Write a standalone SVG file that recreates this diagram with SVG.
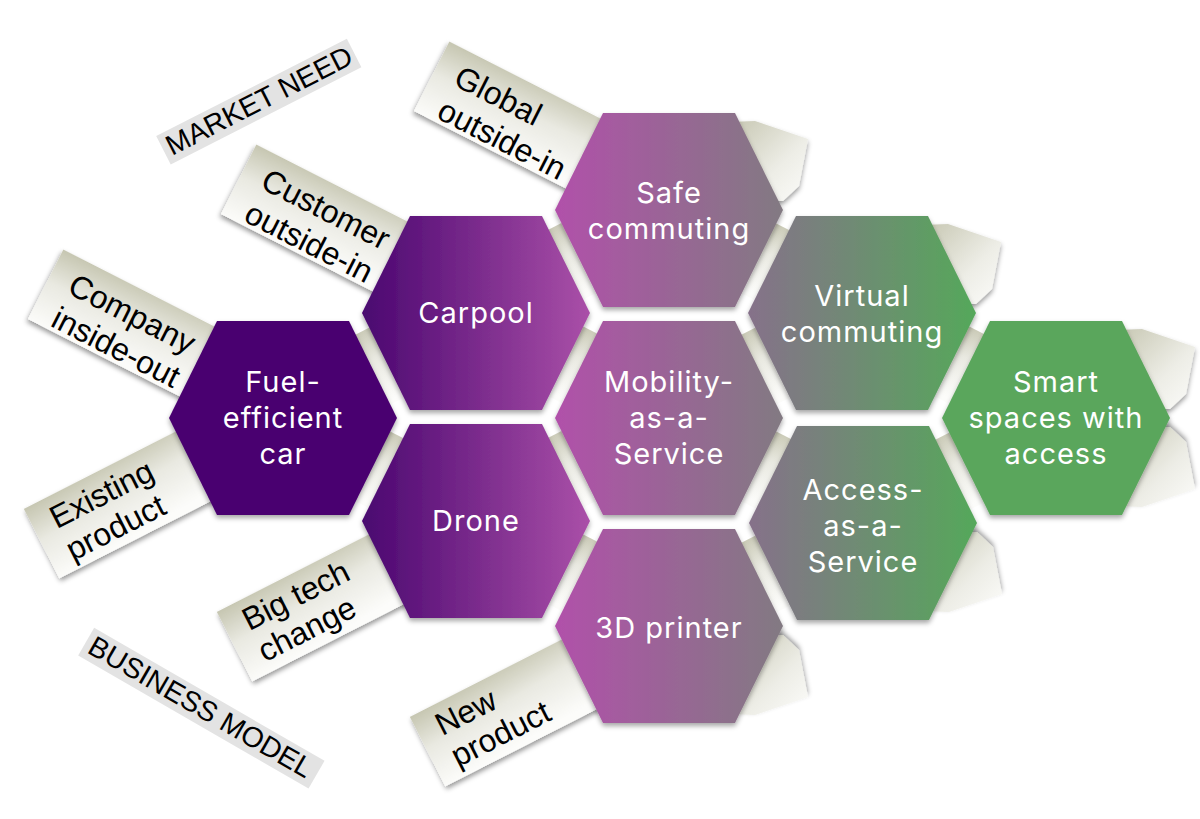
<svg xmlns="http://www.w3.org/2000/svg" width="1200" height="819" viewBox="0 0 1200 819">
<defs>
<style>
.hx{font-family:Inter,"Noto Sans","DejaVu Sans",sans-serif;font-size:29px;letter-spacing:1px;fill:#ffffff;text-anchor:middle}
.tb{font-family:"Liberation Sans",Arial,sans-serif;font-size:32px;fill:#000000;text-anchor:start}
.ax{font-family:"Liberation Sans",Arial,sans-serif;font-size:28.5px;fill:#000000}
.tab{fill:url(#gTab);filter:url(#fTab)}
.rtab{fill:url(#gTabR);filter:url(#fTab)}
.rtabL{fill:url(#gTabRL);filter:url(#fTab)}
.gap{fill:url(#gTab)}
.hex{filter:url(#fHex)}
</style>
<linearGradient id="gTab" x1="0" y1="0" x2="0.15" y2="1">
<stop offset="0" stop-color="#c6c6b1"/>
<stop offset="0.45" stop-color="#e9e9e1"/>
<stop offset="1" stop-color="#fcfcfa"/>
</linearGradient>
<linearGradient id="gTabR" x1="0" y1="0" x2="1" y2="1">
<stop offset="0" stop-color="#c6c6b1"/>
<stop offset="0.6" stop-color="#ededE6"/>
<stop offset="1" stop-color="#fcfcfa"/>
</linearGradient>
<linearGradient id="gTabRL" x1="0" y1="1" x2="1" y2="0">
<stop offset="0" stop-color="#c6c6b1"/>
<stop offset="0.6" stop-color="#ededE6"/>
<stop offset="1" stop-color="#fcfcfa"/>
</linearGradient>
<linearGradient id="gPurple" x1="0" y1="0" x2="1" y2="0">
<stop offset="0" stop-color="#4a0670"/>
<stop offset="1" stop-color="#aa50a8"/>
</linearGradient>
<linearGradient id="gPink" x1="0" y1="0" x2="1" y2="0">
<stop offset="0" stop-color="#b150aa"/>
<stop offset="1" stop-color="#827a82"/>
</linearGradient>
<linearGradient id="gGreen" x1="0" y1="0" x2="1" y2="0">
<stop offset="0" stop-color="#86718a"/>
<stop offset="1" stop-color="#55a85a"/>
</linearGradient>
<filter id="fTab" x="-20%" y="-30%" width="140%" height="160%">
<feDropShadow dx="0" dy="3" stdDeviation="2.5" flood-color="#000" flood-opacity="0.4"/>
</filter>
<filter id="fHex" x="-10%" y="-10%" width="120%" height="125%">
<feDropShadow dx="0" dy="3" stdDeviation="2.5" flood-color="#000" flood-opacity="0.35"/>
</filter>
<polygon id="hexShape" points="-114,0 -66,-97 66,-97 114,0 66,97 -66,97"/>
<polygon id="rTabShape" points="60,-88 86,-89 139,-71 130,-24 114,-9 60,-9"/>
<rect id="gapShape" x="-12" y="-39" width="40" height="78"/>
</defs>

<!-- axis labels -->
<g id="label-market-need" transform="translate(172,156) rotate(-27)">
<rect x="-5" y="-25" width="214" height="32" fill="#e3e3e3"/>
<text class="ax" x="0" y="0">MARKET NEED</text>
</g>
<g id="label-business-model" transform="translate(86,652) rotate(30)">
<rect x="-5" y="-25" width="266" height="32" fill="#e3e3e3"/>
<text class="ax" x="0" y="0">BUSINESS MODEL</text>
</g>

<!-- connectors: tab strips visible in the gaps between hexagons -->
<g id="connectors">
<use href="#gapShape" class="gap" transform="translate(373,369.5) rotate(-27)"/>
<use href="#gapShape" class="gap" transform="translate(373,466.5) rotate(27)"/>
<use href="#gapShape" class="gap" transform="translate(566,264.5) rotate(-27)"/>
<use href="#gapShape" class="gap" transform="translate(566,361.5) rotate(27)"/>
<use href="#gapShape" class="gap" transform="translate(566,472.5) rotate(-27)"/>
<use href="#gapShape" class="gap" transform="translate(566,569.5) rotate(27)"/>
<use href="#gapShape" class="gap" transform="translate(759,258.5) rotate(27)"/>
<use href="#gapShape" class="gap" transform="translate(759,369.5) rotate(-27)"/>
<use href="#gapShape" class="gap" transform="translate(759,466.5) rotate(27)"/>
<use href="#gapShape" class="gap" transform="translate(759,577.5) rotate(-27)"/>
<use href="#gapShape" class="gap" transform="translate(952,361.5) rotate(27)"/>
<use href="#gapShape" class="gap" transform="translate(953,474.5) rotate(-27)"/>
</g>

<!-- right-hand tabs -->
<g id="tabs-right">
<use href="#rTabShape" class="rtab" transform="translate(669,210)"/>
<use href="#rTabShape" class="rtab" transform="translate(862,313)"/>
<use href="#rTabShape" class="rtab" transform="translate(1056,418)"/>
<use href="#rTabShape" class="rtabL" transform="translate(1056,418) scale(1,-1)"/>
<use href="#rTabShape" class="rtabL" transform="translate(863,523) scale(1,-1)"/>
<use href="#rTabShape" class="rtabL" transform="translate(669,626) scale(1,-1)"/>
</g>

<!-- labelled tabs -->
<g id="tab-global-outside-in" transform="translate(579,161.5) rotate(27)">
<rect class="tab" x="-170" y="-48" width="200" height="78"/>
<text class="tb" x="-148" y="-11">Global</text>
<text class="tb" x="-148" y="26">outside-in</text>
</g>
<g id="tab-customer-outside-in" transform="translate(386,264.5) rotate(27)">
<rect class="tab" x="-170" y="-48" width="200" height="78"/>
<text class="tb" x="-148" y="-11">Customer</text>
<text class="tb" x="-148" y="26">outside-in</text>
</g>
<g id="tab-company-inside-out" transform="translate(193,369.5) rotate(27)">
<rect class="tab" x="-170" y="-48" width="200" height="78"/>
<text class="tb" x="-148" y="-11">Company</text>
<text class="tb" x="-148" y="26">inside-out</text>
</g>
<g id="tab-existing-product" transform="translate(193,466.5) rotate(-27)">
<rect class="tab" x="-170" y="-39" width="200" height="78"/>
<text class="tb" x="-150" y="-6">Existing</text>
<text class="tb" x="-150" y="30">product</text>
</g>
<g id="tab-big-tech-change" transform="translate(386,569.5) rotate(-27)">
<rect class="tab" x="-170" y="-39" width="200" height="78"/>
<text class="tb" x="-150" y="-7">Big tech</text>
<text class="tb" x="-150" y="28">change</text>
</g>
<g id="tab-new-product" transform="translate(579,674.5) rotate(-27)">
<rect class="tab" x="-170" y="-39" width="200" height="78"/>
<text class="tb" x="-150" y="-7">New</text>
<text class="tb" x="-150" y="28">product</text>
</g>

<!-- hexagon nodes -->
<g id="node-fuel-efficient-car" transform="translate(283,418)">
<use href="#hexShape" class="hex" fill="#4a0670"/>
<text class="hx" x="0" y="-26">Fuel-</text>
<text class="hx" x="0" y="10">efficient</text>
<text class="hx" x="0" y="46">car</text>
</g>
<g id="node-carpool" transform="translate(476,313)">
<use href="#hexShape" class="hex" fill="url(#gPurple)"/>
<text class="hx" x="0" y="10">Carpool</text>
</g>
<g id="node-drone" transform="translate(476,521)">
<use href="#hexShape" class="hex" fill="url(#gPurple)"/>
<text class="hx" x="0" y="10">Drone</text>
</g>
<g id="node-safe-commuting" transform="translate(669,210)">
<use href="#hexShape" class="hex" fill="url(#gPink)"/>
<text class="hx" x="0" y="-7">Safe</text>
<text class="hx" x="0" y="29">commuting</text>
</g>
<g id="node-mobility-as-a-service" transform="translate(669,418)">
<use href="#hexShape" class="hex" fill="url(#gPink)"/>
<text class="hx" x="0" y="-26">Mobility-</text>
<text class="hx" x="0" y="10">as-a-</text>
<text class="hx" x="0" y="46">Service</text>
</g>
<g id="node-3d-printer" transform="translate(669,626)">
<use href="#hexShape" class="hex" fill="url(#gPink)"/>
<text class="hx" x="0" y="12">3D printer</text>
</g>
<g id="node-virtual-commuting" transform="translate(862,313)">
<use href="#hexShape" class="hex" fill="url(#gGreen)"/>
<text class="hx" x="0" y="-7">Virtual</text>
<text class="hx" x="0" y="29">commuting</text>
</g>
<g id="node-access-as-a-service" transform="translate(863,523)">
<use href="#hexShape" class="hex" fill="url(#gGreen)"/>
<text class="hx" x="0" y="-23">Access-</text>
<text class="hx" x="0" y="13">as-a-</text>
<text class="hx" x="0" y="49">Service</text>
</g>
<g id="node-smart-spaces-with-access" transform="translate(1056,418)">
<use href="#hexShape" class="hex" fill="#5aa65c"/>
<text class="hx" x="0" y="-26">Smart</text>
<text class="hx" x="0" y="10">spaces with</text>
<text class="hx" x="0" y="46">access</text>
</g>
</svg>
